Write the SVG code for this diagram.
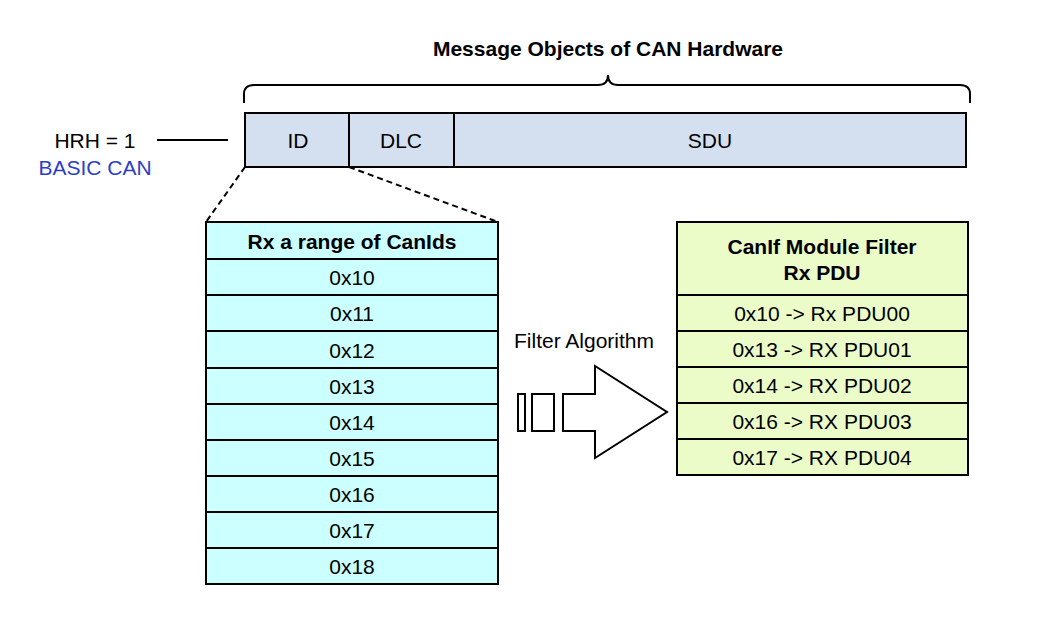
<svg xmlns="http://www.w3.org/2000/svg" width="1042" height="627" viewBox="0 0 1042 627">
<style>
text{font-family:"Liberation Sans",Arial,sans-serif;font-size:21px;fill:#000;text-anchor:middle;dominant-baseline:central}
.b{font-weight:bold}
.hw{fill:#d4dff0;stroke:#000;stroke-width:2}
.c{fill:#ccffff;stroke:#000;stroke-width:2}
.g{fill:#ebfcc8;stroke:#000;stroke-width:2}
.ln{fill:none;stroke:#000;stroke-width:2}
</style>
<rect width="1042" height="627" fill="#fff"/>
<text x="608" y="48" class="b">Message Objects of CAN Hardware</text>
<path class="ln" d="M244,103 V94 Q244,85 254,85 H598 Q608,85 608,75 Q608,85 618,85 H960 Q970,85 970,94 V103"/>
<g id="hrh"><text x="95" y="140">HRH = 1</text><text x="95" y="167" style="fill:#2b3ec4">BASIC CAN</text></g>
<g id="hw">
<rect class="hw" x="245" y="113" width="104" height="54"/><text x="298" y="140">ID</text>
<rect class="hw" x="349" y="113" width="105" height="54"/><text x="401" y="140">DLC</text>
<rect class="hw" x="454" y="113" width="512" height="54"/><text x="710" y="140">SDU</text>
</g>
<g id="connectors">
<line class="ln" x1="157" y1="140" x2="228" y2="140"/>
<line class="ln" x1="245" y1="167" x2="206" y2="222" stroke-dasharray="6,4"/>
<line class="ln" x1="349" y1="167" x2="498" y2="222" stroke-dasharray="6,4"/>
</g>
<g id="rx">
<rect class="c" x="206" y="222" width="292" height="37"/><text x="352" y="241" class="b">Rx a range of CanIds</text>
<rect class="c" x="206" y="259" width="292" height="36"/><text x="352" y="277">0x10</text>
<rect class="c" x="206" y="295" width="292" height="36"/><text x="352" y="313">0x11</text>
<rect class="c" x="206" y="331" width="292" height="37"/><text x="352" y="350">0x12</text>
<rect class="c" x="206" y="368" width="292" height="36"/><text x="352" y="386">0x13</text>
<rect class="c" x="206" y="404" width="292" height="36"/><text x="352" y="422">0x14</text>
<rect class="c" x="206" y="440" width="292" height="36"/><text x="352" y="458">0x15</text>
<rect class="c" x="206" y="476" width="292" height="36"/><text x="352" y="494">0x16</text>
<rect class="c" x="206" y="512" width="292" height="36"/><text x="352" y="530">0x17</text>
<rect class="c" x="206" y="548" width="292" height="36"/><text x="352" y="566">0x18</text>
</g>
<g id="filter">
<text x="584" y="340">Filter Algorithm</text>
<rect class="ln" x="518" y="394" width="7" height="37"/>
<rect class="ln" x="532" y="394" width="22" height="37"/>
<path class="ln" d="M563,394 H595 V366 L667,412 L595,458 V431 H563 Z"/>
</g>
<g id="pdu">
<rect class="g" x="677" y="222" width="291" height="73"/><text x="822" y="246" class="b">CanIf Module Filter</text><text x="822" y="272" class="b">Rx PDU</text>
<rect class="g" x="677" y="295" width="291" height="36"/><text x="822" y="313">0x10 -&gt; Rx PDU00</text>
<rect class="g" x="677" y="331" width="291" height="36"/><text x="822" y="349">0x13 -&gt; RX PDU01</text>
<rect class="g" x="677" y="367" width="291" height="36"/><text x="822" y="385">0x14 -&gt; RX PDU02</text>
<rect class="g" x="677" y="403" width="291" height="36"/><text x="822" y="421">0x16 -&gt; RX PDU03</text>
<rect class="g" x="677" y="439" width="291" height="36"/><text x="822" y="457">0x17 -&gt; RX PDU04</text>
</g>
</svg>
